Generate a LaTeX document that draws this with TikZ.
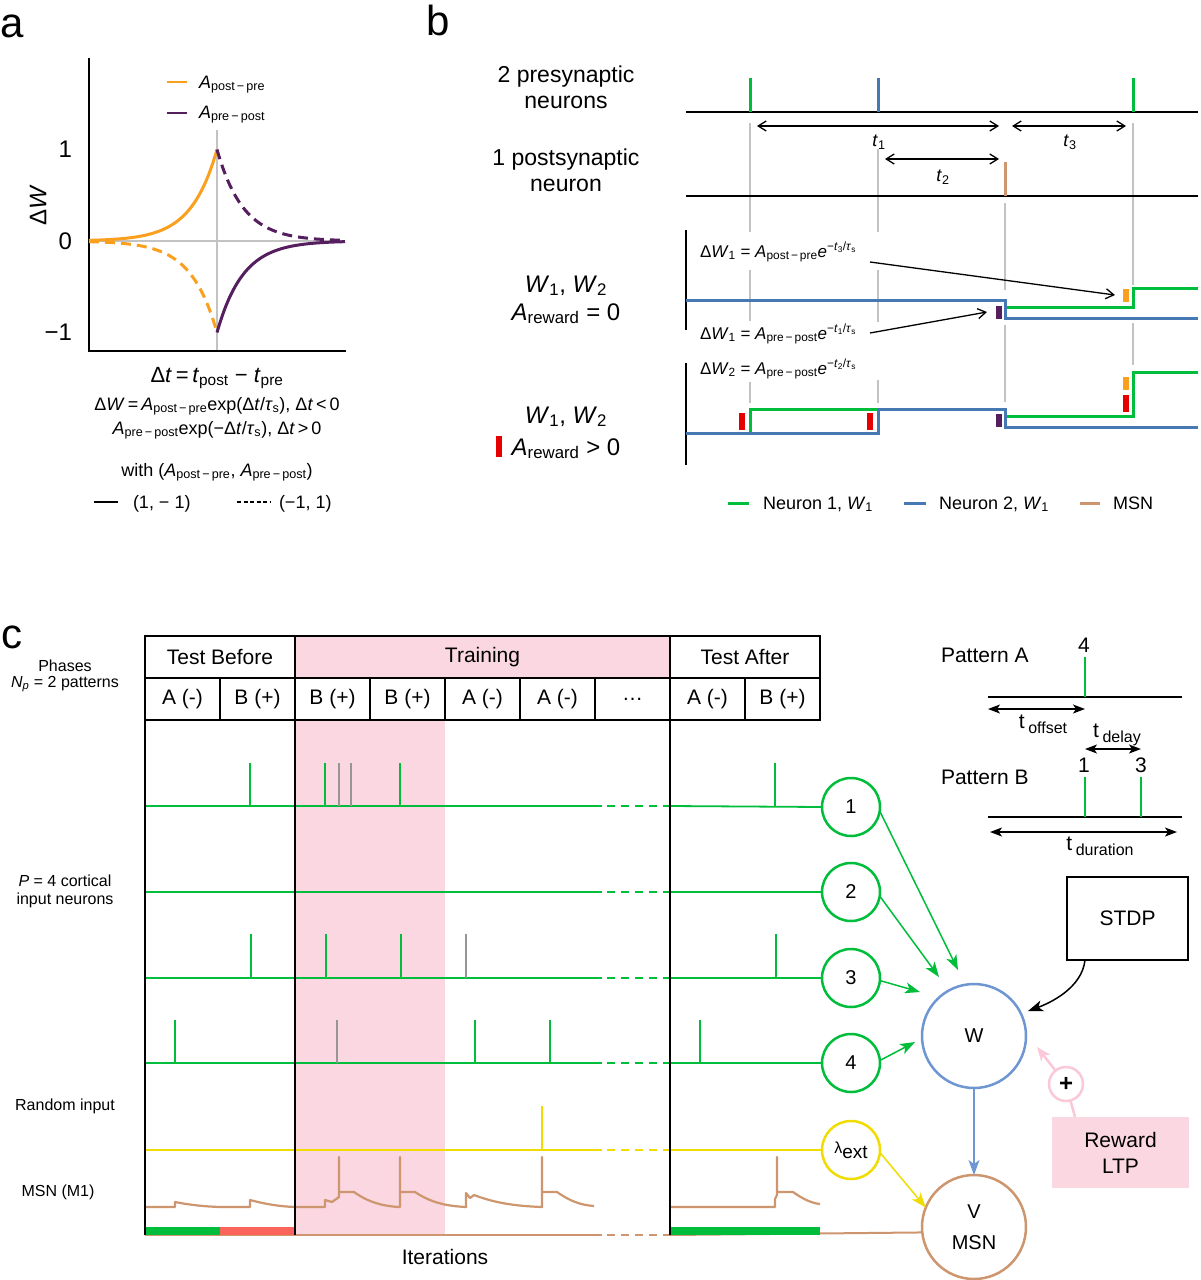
\documentclass[tikz,border=0pt]{standalone}
\usepackage{fontspec}
\setmainfont{Liberation Sans}
\usetikzlibrary{arrows.meta}
\definecolor{cgreen}{RGB}{0,190,60}
\definecolor{cblue}{RGB}{70,120,180}
\definecolor{corange}{RGB}{250,160,30}
\definecolor{cpurple}{RGB}{85,30,95}
\definecolor{ctan}{RGB}{205,150,110}
\definecolor{cpink}{RGB}{251,215,226}
\definecolor{cred}{RGB}{230,0,0}
\definecolor{csalmon}{RGB}{250,100,90}
\definecolor{cyellow}{RGB}{240,220,0}
\definecolor{cwblue}{RGB}{110,150,210}
\definecolor{cgray}{RGB}{150,150,150}
\definecolor{cguide}{RGB}{195,195,195}
\definecolor{cpinkline}{RGB}{250,200,215}
\newcommand{\fs}[2]{\fontsize{#1}{#2}\selectfont}
\newcommand{\sbs}[1]{\textsubscript{#1}}
\newcommand{\sps}[1]{\textsuperscript{#1}}
\newcommand{\tlow}[1]{t\,\raisebox{-5pt}{\fs{16}{16}#1}}
\begin{document}
\begin{tikzpicture}[x=1pt,y=-1pt,
  every node/.style={inner sep=0pt, outer sep=0pt},
  guide/.style={cguide, line width=1.5pt},
  axis/.style={black, line width=1.5pt},
  curve/.style={line width=3pt},
  dcurve/.style={line width=3pt, dash pattern=on 10pt off 6pt},
  wtrace/.style={line width=3pt},
  marker/.style={rectangle, minimum width=6pt, minimum height=13pt, inner sep=0pt},
  barb/.style={line width=1.3pt, -{Straight Barb[length=8pt,width=10pt]}},
  dimarrow/.style={line width=1.3pt, {Straight Barb[length=8pt,width=10pt]}-{Straight Barb[length=8pt,width=10pt]}},
  pdim/.style={line width=1.5pt, {Stealth[length=12pt,width=9pt,inset=3pt]}-{Stealth[length=12pt,width=9pt,inset=3pt]}},
  tbl/.style={black, line width=1.3pt},
  gtrace/.style={cgreen, line width=1.8pt},
  gspike/.style={cgreen, line width=2.5pt},
  grspike/.style={cgray, line width=2.5pt},
  bspike/.style={line width=3pt},
  dashtr/.style={dash pattern=on 8pt off 6pt},
  wlab/.style={font=\fs{17}{17}, fill=white, inner xsep=2pt, inner ysep=3pt},
  circnode/.style={circle, line width=2.5pt, inner sep=0pt, fill=white, font=\fs{20}{20}},
  garrow/.style={cgreen, line width=1.5pt, -{Stealth[length=15pt,width=11pt,inset=4pt]}},
  plabel/.style={font=\fs{21}{21}},
  clabel/.style={font=\fs{16}{18}, align=center}
]
\fill[white] (0,0) rectangle (1200,1280);
\useasboundingbox (0,0) rectangle (1200,1280);

%%%%%%%%%%%%%%%% panel a
\node[font=\fs{42}{42}, anchor=base] (lbla) at (12,37) {a};
\draw[cguide, line width=2.5pt] (217,130) -- (217,351);
\draw[cguide, line width=2.5pt] (89,241) -- (345,241);
\draw[axis] (89,58) -- (89,351) -- (346,351);
\draw[corange, curve] plot[domain=89:217, samples=70] (\x,{241-91.5*exp((\x-217)/26)});
\draw[corange, dcurve] plot[domain=89:217, samples=70] (\x,{241+91.5*exp((\x-217)/26)});
\draw[cpurple, dcurve] plot[domain=217:345, samples=70] (\x,{241-91.5*exp((217-\x)/26)});
\draw[cpurple, curve] plot[domain=217:345, samples=70] (\x,{241+91.5*exp((217-\x)/26)});
\node[anchor=east, font=\fs{24}{24}] (tk1) at (72,149) {1};
\node[anchor=east, font=\fs{24}{24}] (tk0) at (72,241) {0};
\node[anchor=east, font=\fs{24}{24}] (tkm) at (72,332) {−1};
\node[rotate=90, font=\fs{24}{24}] (ylab) at (38,205) {Δ\textit{W}};
\draw[corange, line width=2pt] (167,82) -- (187,82);
\node[anchor=base west, font=\fs{18}{18}] (lg1) at (199,88) {\textit{A}\sbs{post\,−\,pre}};
\draw[cpurple, line width=2pt] (167,113) -- (187,113);
\node[anchor=base west, font=\fs{18}{18}] (lg2) at (199,118) {\textit{A}\sbs{pre\,−\,post}};
\node[anchor=base, font=\fs{22}{22}] (eq1) at (217,382) {Δ\textit{t}\,=\,\textit{t}\sbs{post} − \textit{t}\sbs{pre}};
\node[anchor=base, font=\fs{18}{18}] (eq2) at (217,410) {Δ\textit{W}\,=\,\textit{A}\sbs{post\,−\,pre}exp(Δ\textit{t}/\textit{τ}\sbs{s}), Δ\textit{t}\,<\,0};
\node[anchor=base, font=\fs{18}{18}] (eq3) at (217,434) {\textit{A}\sbs{pre\,−\,post}exp(−Δ\textit{t}/\textit{τ}\sbs{s}), Δ\textit{t}\,>\,0};
\node[anchor=base, font=\fs{18}{18}] (eq4) at (217,476) {with (\textit{A}\sbs{post\,−\,pre}, \textit{A}\sbs{pre\,−\,post})};
\draw[black, line width=1.3pt] (94,502) -- (118,502);
\node[anchor=base west, font=\fs{18}{18}] (eq5) at (133,508) {(1, − 1)};
\draw[black, line width=1.3pt, dash pattern=on 4pt off 2.5pt] (237,502) -- (270,502);
\node[anchor=base west, font=\fs{18}{18}] (eq6) at (279,508) {(−1, 1)};

%%%%%%%%%%%%%%%% panel b
\node[font=\fs{42}{42}, anchor=base] (lblb) at (438,35) {b};
\node[anchor=base, font=\fs{23}{23}] (pre1) at (566,82) {2 presynaptic};
\node[anchor=base, font=\fs{23}{23}] (pre2) at (566,108) {neurons};
\node[anchor=base, font=\fs{23}{23}] (post1) at (566,165) {1 postsynaptic};
\node[anchor=base, font=\fs{23}{23}] (post2) at (566,191) {neuron};
\node[anchor=base, font=\fs{24}{24}] (wa1) at (566,292) {\textit{W}\sbs{1}, \textit{W}\sbs{2}};
\node[anchor=base, font=\fs{24}{24}] (wa2) at (566,320) {\textit{A}\sbs{reward} = 0};
\node[anchor=base, font=\fs{24}{24}] (wb1) at (566,423) {\textit{W}\sbs{1}, \textit{W}\sbs{2}};
\node[anchor=base, font=\fs{24}{24}] (wb2) at (566,455) {\textit{A}\sbs{reward} > 0};
\fill[cred] (496,436) rectangle (502,457);

% guide lines
\draw[guide] (750,123) -- (750,232) (750,270) -- (750,322) (750,380) -- (750,403);
\draw[guide] (878,149) -- (878,232) (878,270) -- (878,322) (878,380) -- (878,403);
\draw[guide] (1005,203) -- (1005,290) (1005,325) -- (1005,402);
\draw[guide] (1133,123) -- (1133,285) (1133,323) -- (1133,365);

\draw[axis] (686,112) -- (1198,112);
\draw[axis] (686,196) -- (1198,196);
\draw[cgreen, bspike] (750,112) -- (750,78);
\draw[cblue, bspike] (878,112) -- (878,78);
\draw[cgreen, bspike] (1133,112) -- (1133,78);
\draw[ctan, bspike] (1005,196) -- (1005,162);
\draw[dimarrow] (757,126) -- (999,126);
\draw[dimarrow] (1012,126) -- (1126,126);
\draw[dimarrow] (885,159) -- (999,159);
\node[font=\fs{18}{18}] (lt1) at (879,142) {\textit{t}\sbs{1}};
\node[font=\fs{18}{18}] (lt3) at (1070,142) {\textit{t}\sbs{3}};
\node[font=\fs{18}{18}] (lt2) at (943,177) {\textit{t}\sbs{2}};

\draw[axis] (686,230) -- (686,330);
\draw[axis] (686,363) -- (686,465);
\draw[cgreen, wtrace] (686,300) -- (1005,300) -- (1005,307) -- (1133,307) -- (1133,288) -- (1198,288);
\draw[cblue, wtrace] (686,300) -- (1005,300) -- (1005,318) -- (1198,318);
\node[marker, fill=cpurple] (mp1) at (999,312) {};
\node[marker, fill=corange] (mo1) at (1126,295) {};
\draw[cgreen, wtrace] (686,433) -- (750,433) -- (750,409) -- (1005,409) -- (1005,416) -- (1133,416) -- (1133,372) -- (1198,372);
\draw[cblue, wtrace] (686,433) -- (878,433) -- (878,409) -- (1005,409) -- (1005,427) -- (1198,427);
\node[marker, fill=cred, minimum height=17pt] (mr1) at (742,421) {};
\node[marker, fill=cred, minimum height=17pt] (mr2) at (870,421) {};
\node[marker, fill=cred, minimum height=17pt] (mr3) at (1126,403) {};
\node[marker, fill=corange] (mo2) at (1126,383) {};
\node[marker, fill=cpurple] (mp2) at (999,420) {};

\node[wlab, anchor=base west] (dw1) at (698,257) {Δ\textit{W}\sbs{1} = \textit{A}\sbs{post\,−\,pre}\textit{e}\sps{−\textit{t}\sbs{3}/\textit{τ}\sbs{s}}};
\node[wlab, anchor=base west] (dw2) at (698,339) {Δ\textit{W}\sbs{1} = \textit{A}\sbs{pre\,−\,post}\textit{e}\sps{−\textit{t}\sbs{1}/\textit{τ}\sbs{s}}};
\node[wlab, anchor=base west] (dw3) at (698,374) {Δ\textit{W}\sbs{2} = \textit{A}\sbs{pre\,−\,post}\textit{e}\sps{−\textit{t}\sbs{2}/\textit{τ}\sbs{s}}};
\coordinate (a1s) at (870,262);
\coordinate (a2s) at (870,333);
\draw[barb] (a1s) -- ([xshift=-8pt]mo1.west);
\draw[barb] (a2s) -- ([xshift=-9pt]mp1.west);

\draw[cgreen, line width=3pt] (728,503) -- (749,503);
\node[anchor=base west, font=\fs{18}{18}] (leg1) at (763,509) {Neuron 1, \textit{W}\sbs{1}};
\draw[cblue, line width=3pt] (904,503) -- (926,503);
\node[anchor=base west, font=\fs{18}{18}] (leg2) at (939,509) {Neuron 2, \textit{W}\sbs{1}};
\draw[ctan, line width=3pt] (1080,503) -- (1100,503);
\node[anchor=base west, font=\fs{18}{18}] (leg3) at (1113,509) {MSN};

%%%%%%%%%%%%%%%% panel c
\node[font=\fs{42}{42}, anchor=base] (lblc) at (12,648) {c};
\node[clabel] (ph1) at (65,666) {Phases};
\node[clabel] (ph2) at (65,684) {\textit{N}\sbs{\textit{p}} = 2 patterns};
\node[clabel] (inp) at (65,891) {\textit{P} = 4 cortical\\input neurons};
\node[clabel] (rnd) at (65,1106) {Random input};
\node[clabel] (msnl) at (58,1192) {MSN (M1)};
\node[plabel] (iter) at (445,1257) {Iterations};

\fill[cpink] (295,636) rectangle (670,678);
\fill[cpink] (295,720) rectangle (445,1235);

% right-hand nodes
\node[circnode, draw=cgreen, minimum size=58pt] (c1) at (851,807) {1};
\node[circnode, draw=cgreen, minimum size=58pt] (c2) at (851,892) {2};
\node[circnode, draw=cgreen, minimum size=58pt] (c3) at (851,978) {3};
\node[circnode, draw=cgreen, minimum size=58pt] (c4) at (851,1063) {4};
\node[circnode, draw=cyellow, minimum size=58pt] (lam) at (851,1150) {{\fs{16}{16}λ}\raisebox{-5pt}{\fs{19}{19}ext}};
\node[circnode, draw=cwblue, minimum size=104pt] (W) at (974,1036) {W};
\node[circnode, draw=ctan, minimum size=104pt, align=center, font=\fs{20}{31}] (msn) at (974,1227) {V\\MSN};
\node[draw, line width=2pt, minimum width=121pt, minimum height=83pt, font=\fs{21}{21}] (stdp) at (1127.5,918.5) {STDP};
\node[fill=cpink, minimum width=137pt, minimum height=71pt, align=center, font=\fs{21}{26}] (rew) at (1120.5,1152.5) {Reward\\LTP};

% traces
\foreach \yy/\nn in {806/c1, 892/c2, 978/c3, 1063/c4} {
  \draw[gtrace] (145,\yy) -- (602,\yy);
  \draw[gtrace, dashtr] (607,\yy) -- (670,\yy);
  \draw[gtrace] (670,\yy) -- (\nn.west);
}
\draw[cyellow, line width=1.8pt] (145,1150) -- (602,1150);
\draw[cyellow, line width=1.8pt, dashtr] (607,1150) -- (670,1150);
\draw[cyellow, line width=1.8pt] (670,1150) -- (lam.west);

\foreach \xx in {250,325,400,775} \draw[gspike] (\xx,806) -- (\xx,763);
\foreach \xx in {339,351} \draw[grspike] (\xx,806) -- (\xx,763);
\foreach \xx in {251,326,401,776} \draw[gspike] (\xx,978) -- (\xx,934);
\draw[grspike] (466,978) -- (466,934);
\foreach \xx in {175,475,550,700} \draw[gspike] (\xx,1063) -- (\xx,1020);
\draw[grspike] (337,1063) -- (337,1020);
\draw[cyellow, line width=2.5pt] (542,1150) -- (542,1106);

% MSN trace
\draw[ctan, line width=2.2pt, line join=round]
  (145,1207) -- (175,1207) -- (175,1202) .. controls (190,1205) and (205,1206.5) .. (220,1207)
  -- (250,1207) -- (250,1200) .. controls (265,1204) and (280,1206.5) .. (295,1207)
  -- (325,1207) -- (325,1200) -- (332,1202) -- (339,1197) -- (339,1157) -- (339,1192) -- (354,1192)
  .. controls (368,1202) and (382,1206) .. (399,1207) -- (400,1207) -- (400,1157) -- (400,1192) -- (415,1192)
  .. controls (430,1202) and (445,1206) .. (466,1207) -- (466,1193) -- (470,1198) -- (474,1195)
  .. controls (495,1203) and (515,1206) .. (542,1207) -- (542,1157) -- (542,1192) -- (557,1192)
  .. controls (570,1201) and (580,1205) .. (594,1206);
\draw[ctan, line width=2.2pt, line join=round]
  (670,1207) -- (775,1207) -- (775,1199) -- (777,1195) -- (777,1157) -- (777,1192) -- (793,1192)
  .. controls (803,1199) and (811,1203) .. (820,1204);

% bottom line and bars
\draw[ctan, line width=2pt] (145,1235) -- (602,1235);
\draw[ctan, line width=2pt, dashtr] (607,1235) -- (670,1235);
\draw[ctan, line width=2pt] (670,1235) -- (msn.186);
\fill[cgreen] (145,1227) rectangle (220,1235);
\fill[csalmon] (220,1227) rectangle (295,1235);
\fill[cgreen] (670,1227) rectangle (820,1235);

% table
\draw[tbl] (145,636) rectangle (820,720);
\draw[tbl] (145,678) -- (820,678);
\foreach \xx in {220,370,445,520,595,745} \draw[tbl] (\xx,678) -- (\xx,720);
\draw[tbl] (295,636) -- (295,1235);
\draw[tbl] (670,636) -- (670,1235);
\draw[tbl] (145,720) -- (145,1235);
\node[plabel] (h1) at (220,657) {Test Before};
\node[plabel] (h2) at (482.5,657) {Training};
\node[plabel] (h3) at (745,657) {Test After};
\foreach \xx/\tt [count=\i] in {182.5/A (-), 257.5/B (+), 332.5/B (+), 407.5/B (+), 482.5/A (-), 557.5/A (-), 632.5/…, 707.5/A (-), 782.5/B (+)}
  \node[plabel] (r\i) at (\xx,699) {\tt};

% arrows to W and MSN
\coordinate (e1) at (958,970);
\coordinate (e2) at (939,977);
\coordinate (e3) at (920,992);
\coordinate (e4) at (915,1042);
\draw[garrow] (c1.-8) -- (e1);
\draw[garrow] (c2.-8) -- (e2);
\draw[garrow] (c3.-5) -- (e3);
\draw[garrow] (c4.5) -- (e4);
\draw[cyellow, line width=1.5pt, -{Stealth[length=15pt,width=11pt,inset=4pt]}] (lam.-5) -- (msn.158);
\draw[cwblue, line width=1.5pt, -{Stealth[length=15pt,width=11pt,inset=4pt]}] (W.south) -- (msn.north);
\coordinate (se) at (1028,1011);
\draw[black, line width=1.5pt, -{Stealth[length=15pt,width=11pt,inset=4pt]}] ([xshift=18pt]stdp.south west) .. controls +(-3,28) and +(22,-8) .. (se);
\node[circle, draw=cpinkline, line width=2.5pt, minimum size=34pt, fill=white, font=\fs{24}{24}\bfseries] (plus) at (1066,1084) {+};
\draw[cpinkline, line width=2.5pt] ([xshift=23pt]rew.north west) -- (plus);
\coordinate (pe) at (1037,1047);
\draw[cpinkline, line width=2.5pt, -{Stealth[length=14pt,width=11pt,inset=4pt]}] (plus) -- (pe);

% patterns
\node[anchor=west, plabel] (patA) at (941,655) {Pattern A};
\draw[black, line width=2pt] (988,697) -- (1182,697);
\draw[gspike] (1085,697) -- (1085,657);
\node[plabel] (n4) at (1084,645) {4};
\draw[pdim] (988,709) -- (1085,709);
\node[anchor=base, plabel] (toff) at (1043,728) {\tlow{offset}};
\node[anchor=base, plabel] (tdel) at (1117,737) {\tlow{delay}};
\draw[pdim] (1085,749) -- (1141,749);
\node[anchor=west, plabel] (patB) at (941,777) {Pattern B};
\node[plabel] (n1) at (1084,765) {1};
\node[plabel] (n3) at (1141,765) {3};
\draw[black, line width=2pt] (988,817) -- (1182,817);
\draw[gspike] (1085,817) -- (1085,777);
\draw[gspike] (1141,817) -- (1141,777);
\draw[pdim] (990,832) -- (1177,832);
\node[anchor=base, plabel] (tdur) at (1100,850) {\tlow{duration}};
\end{tikzpicture}
\end{document}
